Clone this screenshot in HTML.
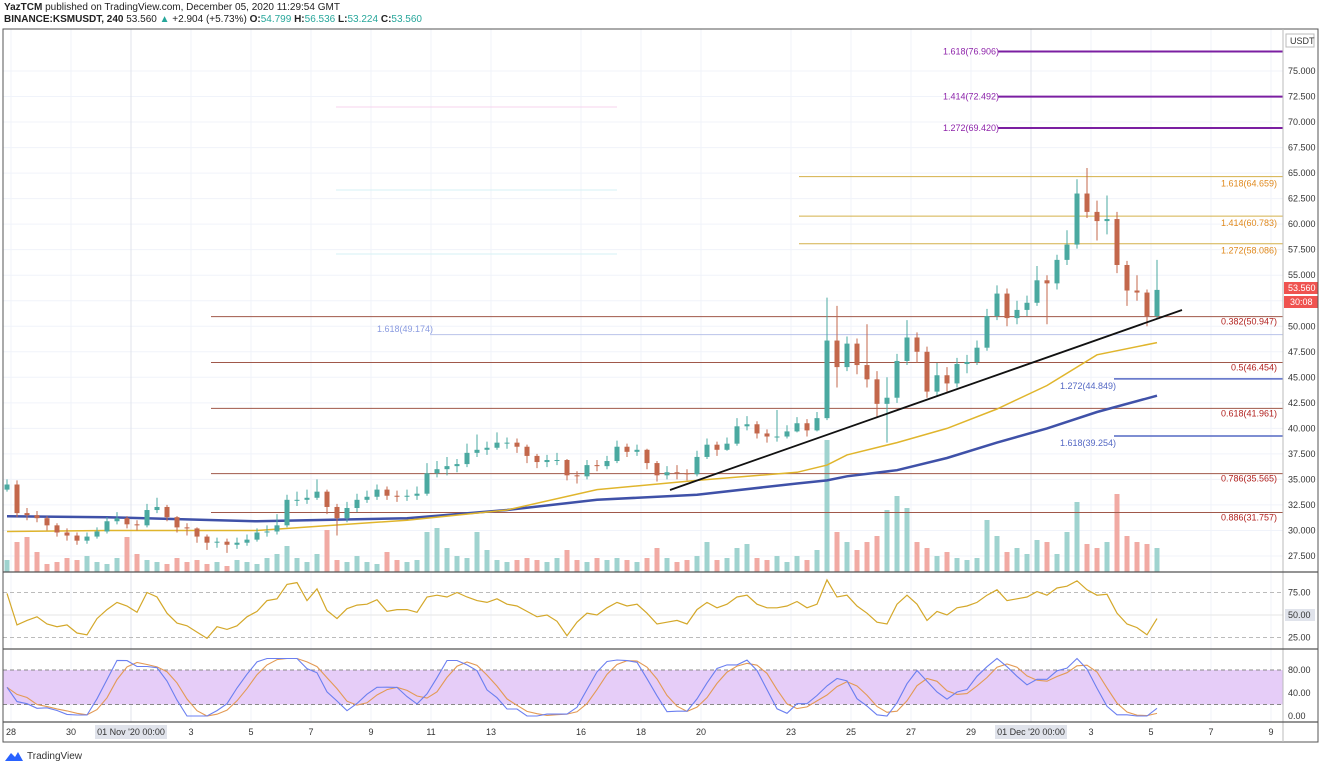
<!DOCTYPE html>
<html><head><meta charset="utf-8">
<style>
html,body{margin:0;padding:0;background:#fff;}
body{width:1323px;height:768px;overflow:hidden;font-family:"Liberation Sans",sans-serif;}
#hdr1{position:absolute;left:4px;top:2px;font-size:10px;color:#222;}
#hdr2{position:absolute;left:4px;top:14px;font-size:10px;color:#222;}
.tv{color:#26a69a;}
#logo{position:absolute;left:4px;top:750px;font-size:10px;color:#333;display:flex;align-items:center;gap:3px;}
svg{position:absolute;left:0;top:0;}
</style></head>
<body>
<div id="hdr1"><b>YazTCM</b> published on TradingView.com, December 05, 2020 11:29:54 GMT</div>
<div id="hdr2"><b>BINANCE:KSMUSDT, 240</b> 53.560 <span class="tv">▲</span> +2.904 (+5.73%) <b>O:</b><span class="tv">54.799</span> <b>H:</b><span class="tv">56.536</span> <b>L:</b><span class="tv">53.224</span> <b>C:</b><span class="tv">53.560</span></div>
<svg id="chart" width="1323" height="768"></svg>
<div id="logo"><svg width="20" height="12" style="position:static"><path d="M1 11 L7 3 L11 7 L14 2 L19 11 Z" fill="#2962ff"/></svg>TradingView</div>
<script>
const closes=[34.5,31.7,31.5,31.2,30.5,29.8,29.5,29.0,29.4,29.9,30.9,31.2,30.6,30.5,32.0,32.3,31.3,30.3,30.2,29.4,28.8,28.9,28.6,28.8,29.1,29.8,29.9,30.5,33.0,33.0,33.2,33.8,32.3,31.2,32.2,33.0,33.3,34.0,33.4,33.3,33.4,33.6,35.6,36.0,36.3,36.5,37.6,37.9,38.1,38.6,38.6,38.2,37.3,36.7,36.9,36.9,35.4,35.3,36.4,36.3,36.8,38.2,37.7,37.9,36.6,35.4,35.7,35.6,35.5,37.2,38.4,37.9,38.5,40.2,40.4,39.5,39.2,39.2,39.7,40.5,39.8,41.0,48.6,46.0,48.3,46.2,44.8,42.4,43.0,46.6,48.9,47.5,43.6,45.2,44.4,46.3,46.5,47.9,51.0,53.2,50.8,51.6,52.3,54.5,54.2,56.5,58.0,63.0,61.2,60.3,60.5,56.0,53.5,53.3,51.0,53.56];
const highs=[35.0,34.9,32.2,31.9,31.4,30.7,30.2,29.8,29.8,30.3,31.3,31.8,31.4,31.0,32.6,33.2,32.5,31.4,30.7,30.3,29.6,29.3,29.2,29.3,29.6,30.2,30.5,31.6,33.5,33.8,34.0,35.0,34.0,32.6,32.8,33.6,33.9,34.5,34.3,33.9,34.0,34.3,36.6,36.8,37.2,37.0,38.5,39.4,38.7,39.6,39.1,39.0,38.4,37.5,37.4,37.6,37.0,35.8,36.9,36.9,37.3,38.8,38.5,38.4,38.0,36.8,36.3,36.4,36.0,37.8,39.0,38.7,39.1,41.0,41.2,40.7,39.9,41.8,40.3,41.1,40.9,41.6,52.8,52.0,49.0,48.8,50.2,45.6,45.0,47.3,50.6,49.4,48.0,46.4,46.0,46.9,47.2,48.6,51.7,54.0,53.7,52.5,53.0,55.9,55.0,57.0,59.4,64.4,65.5,62.3,62.8,61.2,56.4,55.0,53.6,56.5];
const lows=[33.8,31.3,31.0,30.8,30.0,29.4,29.0,28.6,28.7,29.2,29.7,30.6,30.2,30.0,30.3,31.7,30.9,29.8,29.5,28.8,28.1,28.3,27.8,28.2,28.5,28.9,29.4,29.6,30.3,32.4,32.6,33.0,31.6,29.5,30.8,31.8,32.7,33.0,33.0,32.8,32.9,33.0,33.4,35.2,35.4,35.7,36.2,37.2,37.4,37.9,38.0,37.6,36.6,36.1,36.2,36.4,34.9,34.6,35.0,35.8,36.0,36.6,37.2,37.3,36.0,34.8,35.0,35.0,34.9,35.3,37.0,37.3,37.8,38.3,39.8,39.0,38.6,38.7,39.0,39.6,39.2,39.7,40.8,44.0,45.6,45.3,44.0,41.0,38.6,42.5,46.2,46.4,43.0,43.2,43.6,44.0,45.4,46.2,47.6,50.6,50.0,50.2,51.0,52.0,50.2,53.6,56.0,57.6,60.6,58.4,59.0,55.2,52.0,52.5,50.0,50.8];
const volumes=[12,30,35,20,8,10,14,12,16,10,8,14,35,18,12,10,8,14,10,12,8,10,6,12,10,8,14,18,26,14,10,18,42,12,10,16,10,8,20,12,10,12,40,44,24,16,14,40,22,12,10,12,14,12,10,14,22,12,10,14,12,14,12,10,14,24,14,10,12,16,30,12,14,24,28,14,12,16,10,16,12,22,132,40,30,22,30,36,62,76,64,30,24,16,20,14,12,14,52,36,20,24,18,32,30,18,40,70,28,24,30,78,36,30,28,24];
const rsiValues=[74,39,44,48,40,37,39,30,28,46,56,64,60,53,75,70,52,41,38,31,24,37,34,38,48,54,66,68,84,86,66,79,55,46,57,61,62,67,54,56,56,53,70,72,70,75,70,66,64,68,62,60,54,48,50,43,27,42,52,50,58,64,60,62,52,40,42,44,40,56,64,58,62,70,72,62,58,58,60,65,58,62,89,70,72,60,52,42,40,62,72,62,44,54,50,58,60,64,72,78,66,68,70,76,72,80,82,88,78,72,73,52,40,36,28,46];
// moving averages sampled at candle indices
const maIdx=[0,10,25,40,50,59,69,79,82,84,89,94,99,104,109,115];
const ma100=[29.9,30.0,30.0,31.0,32.0,34.0,34.9,35.7,36.4,37.4,38.6,40.0,41.9,44.2,47.2,48.4];
const ma200=[31.4,31.3,30.9,31.2,32.0,33.0,33.5,34.6,34.9,35.3,35.9,37.1,38.6,40.0,41.6,43.2];
const priceTicks=[27.5,30,32.5,35,37.5,40,42.5,45,47.5,50,52.5,55,57.5,60,62.5,65,67.5,70,72.5,75];
const fibBrown=[50.947,46.454,41.961,35.565,31.757];
const fibBrownLbl=["0.382(50.947)","0.5(46.454)","0.618(41.961)","0.786(35.565)","0.886(31.757)"];
const fibGold=[64.659,60.783,58.086];
const fibGoldLbl=["1.618(64.659)","1.414(60.783)","1.272(58.086)"];
const fibPurple=[76.906,72.492,69.420];
const fibPurpleLbl=["1.618(76.906)","1.414(72.492)","1.272(69.420)"];
const fibBlue=[44.849,39.254];
const fibBlueLbl=["1.272(44.849)","1.618(39.254)"];
const timeLabels=["28","30","01 Nov '20   00:00","3","5","7","9","11","13","16","18","20","23","25","27","29","01 Dec '20   00:00","3","5","7","9"];
const timeDays=[0,2,4,6,8,10,12,14,16,19,21,23,26,28,30,32,34,36,38,40,42];

const NS="http://www.w3.org/2000/svg";
const svg=document.getElementById('chart');
function mk(tag,attrs,parent){const e=document.createElementNS(NS,tag);for(const k in attrs)e.setAttribute(k,attrs[k]);(parent||svg).appendChild(e);return e;}
const L=3,R=1283,TOP=29,BOT=572;
const y=p=>71+(75-p)*10.21;
const x=i=>7+i*10;
const dayX=d=>11+d*30;
const yR=v=>615-(v-50)*0.9;
const yS=v=>716-v*0.575;

// grid
const grid=mk('g',{});


priceTicks.forEach(p=>{mk('line',{x1:L,x2:R,y1:y(p),y2:y(p),stroke:'#f0f3fa'},grid);});
timeDays.forEach((d,k)=>{const c=(k==2||k==16)?'#e0e3eb':'#f0f3fa';mk('line',{x1:dayX(d),x2:dayX(d),y1:TOP,y2:722,stroke:c},grid);});
// faint ghost lines
[[107,'#f7d3ee'],[190,'#d6f1f4'],[254,'#d6f1f4']].forEach(g=>mk('line',{x1:336,x2:617,y1:g[0],y2:g[0],stroke:g[1]},grid));

// volumes
const vg=mk('g',{});


volumes.forEach((v,i)=>{const o=i?closes[i-1]:34.0;const up=closes[i]>=o;
 const b=mk('rect',{x:x(i)-2.5,y:BOT-v,width:5,height:v,fill:up?'#9fd3cf':'#f1aaa3'},vg);
 
 });

// fib lines
function hline(p,x1,color,w,name){const l=mk('line',{x1:x1,x2:R,y1:y(p),y2:y(p),stroke:color,'stroke-width':w});}
function lbl(t,xx,yy,color,anchor,name){const e=mk('text',{x:xx,y:yy,fill:color,'font-size':9,'text-anchor':anchor||'start'});e.textContent=t;}
fibBrown.forEach((p,k)=>{hline(p,211,'#a0584a',1,'fib-retracement-line');lbl(fibBrownLbl[k],1277,y(p)+8,'#b2221f','end','fib-retracement-label');});
fibGold.forEach((p,k)=>{hline(p,799,'#d4b04a',1,'fib-extension-line');lbl(fibGoldLbl[k],1277,y(p)+10,'#e08a1e','end','fib-extension-label');});
fibPurple.forEach((p,k)=>{hline(p,998,'#7b1fa2',2,'fib-target-line');lbl(fibPurpleLbl[k],943,y(p)+3,'#8e24aa','start','fib-target-label');});
fibBlue.forEach((p,k)=>{hline(p,1114,'#5468c4',1.5,'fib-blue-line');lbl(fibBlueLbl[k],1060,y(p)+10,'#5468c4','start','fib-blue-label');});
hline(49.174,430,'#b9c3ea',1,'fib-light-line');lbl('1.618(49.174)',377,332,'#8a9be0','start','fib-light-label');

// moving averages
function maPath(arr,color,w,name){let d='';arr.forEach((v,k)=>{d+=(k?'L':'M')+x(maIdx[k])+' '+y(v).toFixed(1);});const p=mk('path',{d:d,fill:'none',stroke:color,'stroke-width':w});}
maPath(ma200,'#3f51a8',2.5,'ma-200-line');
maPath(ma100,'#e0b52c',1.5,'ma-100-line');

// candles
const cg=mk('g',{});


closes.forEach((c,i)=>{const o=i?closes[i-1]:34.0;const up=c>=o;const col=up?'#4aa9a0':'#c3674b';
 const g=mk('g',{},cg);
 
 
 mk('line',{x1:x(i),x2:x(i),y1:y(highs[i]),y2:y(lows[i]),stroke:col},g);
 const t=y(Math.max(o,c)),h=Math.max(1,Math.abs(y(o)-y(c)));
 mk('rect',{x:x(i)-2.5,y:t,width:5,height:h,fill:col},g);});

// trendline
const tl=mk('line',{x1:670,y1:490,x2:1182,y2:310,stroke:'#111','stroke-width':1.8});



// price axis
priceTicks.forEach(p=>lbl(p.toFixed(3),1288,y(p)+3,'#333','start','price-tick'));
const ub=mk('rect',{x:1286,y:34,width:28,height:13,fill:'#fff',stroke:'#bbb'});

lbl('USDT',1290,44,'#333','start','currency-label');
const pb=mk('rect',{x:1284,y:282,width:34,height:12,fill:'#ef5350'});

const pt=mk('text',{x:1288,y:291,fill:'#fff','font-size':9});pt.textContent='53.560';
const cb=mk('rect',{x:1284,y:296,width:34,height:12,fill:'#ef5350'});

const ct=mk('text',{x:1290,y:305,fill:'#fff','font-size':9});ct.textContent='30:08';

// RSI pane
[75,25].forEach(v=>mk('line',{x1:L,x2:R,y1:yR(v),y2:yR(v),stroke:'#bbb','stroke-dasharray':'4,3'}));
mk('line',{x1:L,x2:R,y1:yR(50),y2:yR(50),stroke:'#e6e6e6'});
let rd='';rsiValues.forEach((v,i)=>{rd+=(i?'L':'M')+x(i)+' '+yR(v).toFixed(1);});
const rp=mk('path',{d:rd,fill:'none',stroke:'#d4a82a','stroke-width':1.2});

lbl('75.00',1288,yR(75)+3,'#333','start','rsi-tick');
mk('rect',{x:1285,y:yR(50)-6,width:30,height:12,fill:'#e0e3eb'});
lbl('50.00',1288,yR(50)+3,'#333','start','rsi-tick');
lbl('25.00',1288,yR(25)+3,'#333','start','rsi-tick');

// Stoch RSI pane (derived from RSI)
const per=7;const raw=rsiValues.map((v,i)=>{const w=rsiValues.slice(Math.max(0,i-per+1),i+1);const mn=Math.min(...w),mx=Math.max(...w);return mx>mn?(v-mn)/(mx-mn)*100:50;});
const sm=a=>a.map((v,i)=>{const w=a.slice(Math.max(0,i-2),i+1);return w.reduce((s,q)=>s+q,0)/w.length;});
const kLine=sm(raw),dLine=sm(kLine);
const band=mk('rect',{x:L,y:yS(80),width:R-L,height:yS(20)-yS(80),fill:'#e6cdf8'});

[80,20].forEach(v=>mk('line',{x1:L,x2:R,y1:yS(v),y2:yS(v),stroke:'#888','stroke-dasharray':'4,3'}));
function sPath(a,col,name){let d='';a.forEach((v,i)=>{d+=(i?'L':'M')+x(i)+' '+yS(v).toFixed(1);});const p=mk('path',{d:d,fill:'none',stroke:col,'stroke-width':1.1});}
sPath(dLine,'#e39a55','stoch-d-line');sPath(kLine,'#6b7ff0','stoch-k-line');
lbl('80.00',1288,yS(80)+3,'#333','start','stoch-tick');
lbl('40.00',1288,yS(40)+3,'#333','start','stoch-tick');
lbl('0.00',1288,yS(0)+3,'#333','start','stoch-tick');

// time axis
timeLabels.forEach((t,k)=>{const xx=dayX(timeDays[k]);
 if(t.length>3){const bx=mk('rect',{x:xx-36,y:725,width:72,height:14,fill:'#e0e3eb'});}
 const e=mk('text',{x:xx,y:735,fill:'#333','font-size':9,'text-anchor':'middle','xml:space':'preserve'});e.textContent=t;
 });

// frames
mk('rect',{x:L,y:TOP,width:1318-L,height:742-TOP,fill:'none',stroke:'#555'});
mk('line',{x1:R,x2:R,y1:TOP,y2:742,stroke:'#bbb'});
[BOT,649,722].forEach(v=>mk('line',{x1:L,x2:1318,y1:v,y2:v,stroke:'#555','stroke-width':1.2}));
</script>
</body></html>
